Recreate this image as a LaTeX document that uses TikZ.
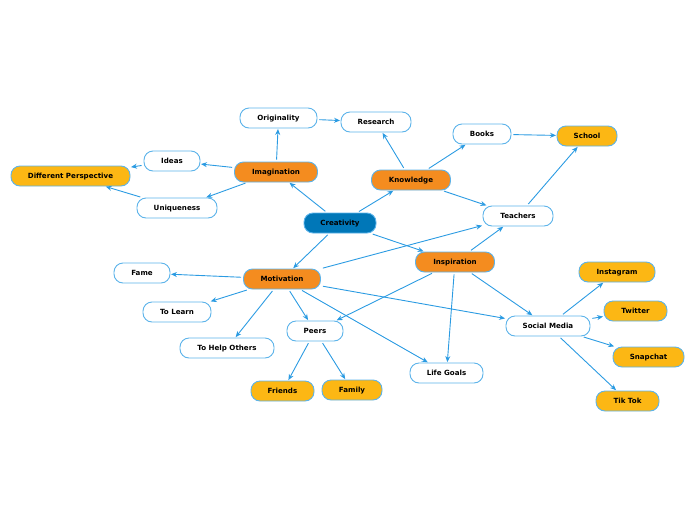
\documentclass[tikz,border=0pt]{standalone}
\usepackage{fontspec}
\setmainfont{DejaVu Sans}
\usetikzlibrary{arrows.meta}
\definecolor{edgeblue}{HTML}{2B9BE2}
\definecolor{bordblue}{HTML}{5CB3EA}
\definecolor{orangeF}{HTML}{F48C1F}
\definecolor{yellowF}{HTML}{FCB714}
\definecolor{blueF}{HTML}{0077B8}
\tikzset{
  base/.style={draw=bordblue, line width=0.9pt, rounded corners=9pt, minimum height=20pt, inner sep=0pt, text height=5pt, text depth=0pt, font=\fontsize{7.1}{8}\selectfont\bfseries, text=black},
  plain/.style={base, fill=white},
  orangebox/.style={base, fill=orangeF},
  yellowbox/.style={base, fill=yellowF},
  centerbox/.style={base, fill=blueF},
  link/.style={draw=edgeblue, line width=0.9pt, -{Stealth[length=6pt,width=5pt]}, shorten <=2pt, shorten >=0.5pt}
}
\begin{document}
\begin{tikzpicture}[x=1pt,y=-1pt]
\useasboundingbox (0,0) rectangle (696,520);
\node[centerbox, minimum width=72pt] (cre) at (340,223) {Creativity};
\node[orangebox, minimum width=83pt] (ima) at (276,172) {Imagination};
\node[orangebox, minimum width=79pt] (kno) at (411,180) {Knowledge};
\node[orangebox, minimum width=79pt] (ins) at (455,262) {Inspiration};
\node[orangebox, minimum width=77pt] (mot) at (282,279) {Motivation};
\node[plain, minimum width=77pt] (ori) at (278.5,118) {Originality};
\node[plain, minimum width=70pt] (res) at (376,122) {Research};
\node[plain, minimum width=58pt] (boo) at (482,134) {Books};
\node[yellowbox, minimum width=60pt] (sch) at (587,136) {School};
\node[plain, minimum width=56pt] (ide) at (172,161) {Ideas};
\node[yellowbox, minimum width=119pt] (dif) at (70.5,176) {Different Perspective};
\node[plain, minimum width=80pt] (uni) at (177,208) {Uniqueness};
\node[plain, minimum width=70pt] (tea) at (518,216) {Teachers};
\node[plain, minimum width=56pt] (fam) at (142,273) {Fame};
\node[yellowbox, minimum width=76pt] (ig) at (617,272) {Instagram};
\node[yellowbox, minimum width=63pt] (tw) at (635.5,311) {Twitter};
\node[plain, minimum width=68pt] (tol) at (177,312) {To Learn};
\node[plain, minimum width=56pt] (pee) at (315,331) {Peers};
\node[plain, minimum width=84pt] (soc) at (548,326) {Social Media};
\node[plain, minimum width=94pt] (toh) at (227,348) {To Help Others};
\node[yellowbox, minimum width=71pt] (sna) at (648.5,357) {Snapchat};
\node[plain, minimum width=73pt] (lif) at (446.5,373) {Life Goals};
\node[yellowbox, minimum width=63pt] (fri) at (282.5,391) {Friends};
\node[yellowbox, minimum width=60pt] (fay) at (352,390) {Family};
\node[yellowbox, minimum width=63pt] (tik) at (627.5,401) {Tik Tok};

\draw[link] (cre) -- (ima);
\draw[link] (cre) -- (kno);
\draw[link] (cre) -- (mot);
\draw[link] (cre) -- (ins);
\draw[link] (ima) -- (ori);
\draw[link] (ima) -- (ide);
\draw[link] (ima) -- (uni);
\draw[link] (ide) -- (dif);
\draw[link] (uni) -- (dif);
\draw[link] (ori) -- (res);
\draw[link] (kno) -- (res);
\draw[link] (kno) -- (boo);
\draw[link] (kno) -- (tea);
\draw[link] (boo) -- (sch);
\draw[link] (tea) -- (sch);
\draw[link] (ins) -- (tea);
\draw[link] (mot) -- (tea);
\draw[link] (mot) -- (fam);
\draw[link] (mot) -- (tol);
\draw[link] (mot) -- (toh);
\draw[link] (mot) -- (pee);
\draw[link] (mot) -- (lif);
\draw[link] (mot) -- (soc);
\draw[link] (ins) -- (pee);
\draw[link] (ins) -- (lif);
\draw[link] (ins) -- (soc);
\draw[link] (pee) -- (fri);
\draw[link] (pee) -- (fay);
\draw[link] (soc) -- (ig);
\draw[link] (soc) -- (tw);
\draw[link] (soc) -- (sna);
\draw[link] (soc) -- (tik);
\end{tikzpicture}
\end{document}
